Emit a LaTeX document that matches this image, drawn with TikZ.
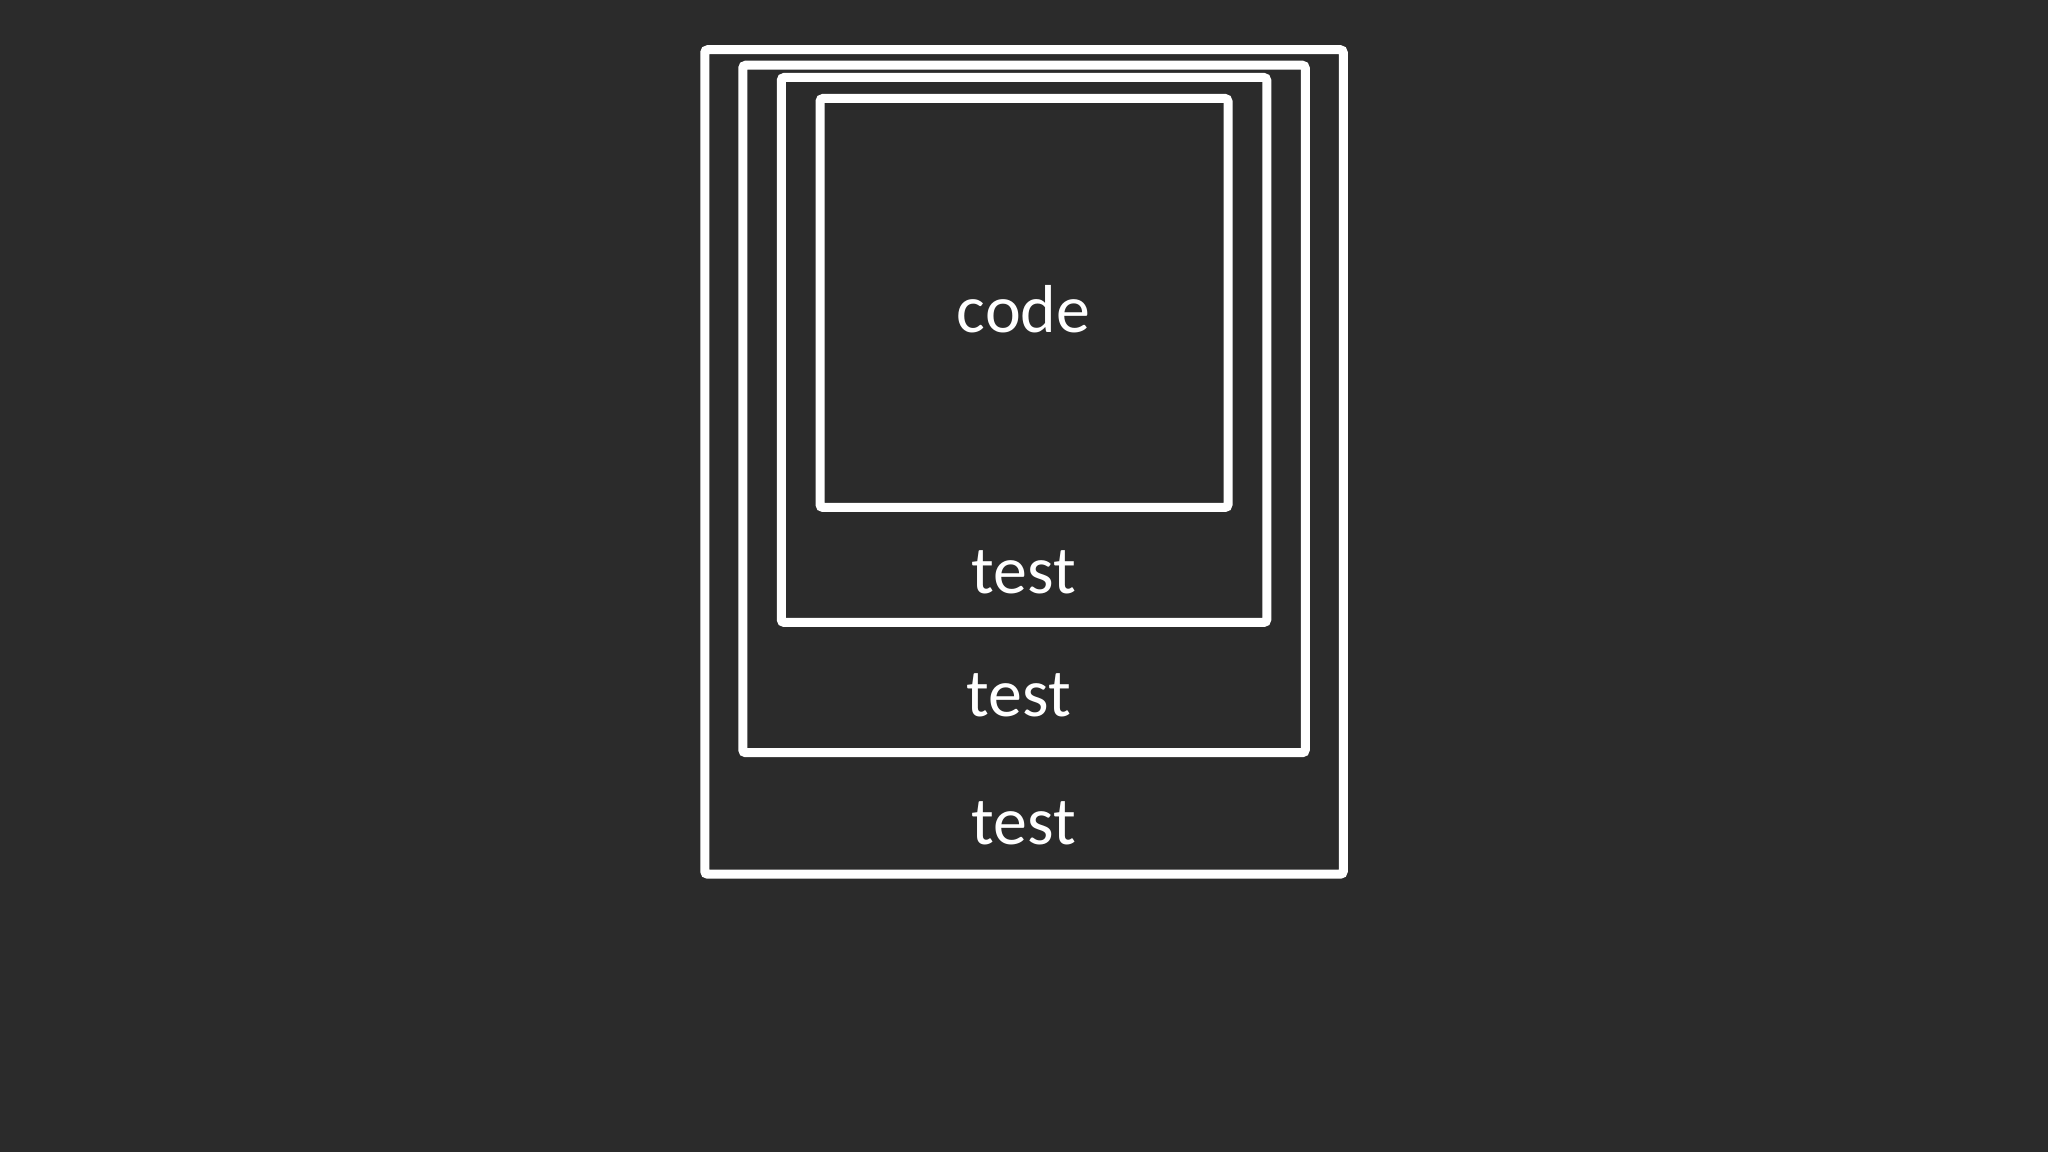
\documentclass[tikz,border=0pt]{standalone}
\usepackage{fontspec}
\setmainfont{Carlito}
\usepackage{tikz}
\definecolor{slatebg}{RGB}{43,43,43}
\tikzset{
  layer/.style = {draw=white, line width=0.09cm, rounded corners=0.03cm,
    inner sep=0pt, outer sep=0pt},% one nested box
  word/.style = {text=white, inner sep=0pt, anchor=base,
    font=\fontsize{19.3}{23}\selectfont}% label in a box
}
\begin{document}
\begin{tikzpicture}
  % background, fixes the size
  \fill[slatebg] (0,0) rectangle (20.48,11.52);
  \useasboundingbox (0,0) rectangle (20.48,11.52);
  % boxes, outer to inner
  \node [layer, minimum width=6.385cm, minimum height=8.245cm] (outer) at (10.24,6.90) {};
  \node [layer, minimum width=5.625cm, minimum height=6.875cm] (middle) at (10.24,7.43) {};
  \node [layer, minimum width=4.855cm, minimum height=5.45cm] (inner) at (10.24,8.02) {};
  \node [layer, minimum width=4.08cm, minimum height=4.09cm] (core) at (10.24,8.49) {};
  % labels
  \node [word] (codelabel) at (10.235,8.19) {code};
  \node [word] (testinner) at (10.24,5.58) {test};
  \node [word] (testmiddle) at (10.19,4.35) {test};
  \node [word] (testouter) at (10.24,3.07) {test};
\end{tikzpicture}
\end{document}
